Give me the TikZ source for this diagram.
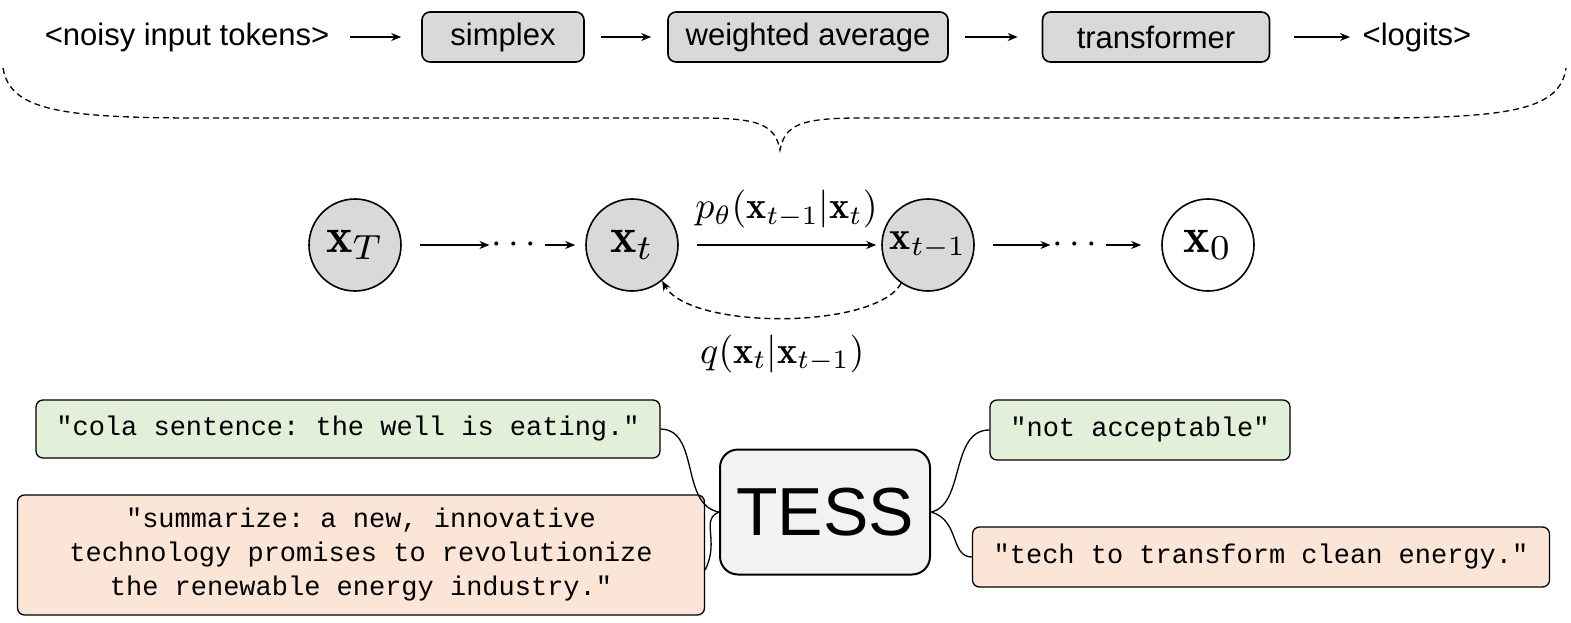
\documentclass[tikz,border=0pt]{standalone}
\usepackage{amsmath}
\usepackage{graphicx}
\usepackage{fontspec}
\setsansfont{Liberation Sans}
\setmonofont{Liberation Mono}
\usetikzlibrary{arrows.meta}
\definecolor{boxgray}{HTML}{D9D9D9}
\definecolor{lgreen}{HTML}{E2F0D9}
\definecolor{lorange}{HTML}{FBE5D6}
\newcommand{\ML}[1]{\scalebox{3.8}{$#1$}}
\newcommand{\MC}[1]{\scalebox{5.0}{$#1$}}
\begin{document}
\begin{tikzpicture}[x=1pt,y=-1pt,
  lbl/.style={font=\sffamily\fontsize{31}{36}\selectfont},
  blk/.style={draw,line width=1.6pt,rounded corners=8pt,fill=boxgray,font=\sffamily\fontsize{31}{36}\selectfont,inner sep=0pt},
  arr/.style={-{Stealth[length=10pt,width=8pt]},line width=1.4pt},
  st/.style={circle,draw,line width=1.6pt,minimum size=92pt,inner sep=0pt},
  txt/.style={draw,line width=1.3pt,rounded corners=7pt,font=\ttfamily\fontsize{27}{34}\selectfont,inner sep=0pt,align=center},
  con/.style={line width=1.3pt}]
\useasboundingbox (0,0) rectangle (1571,623);
% top row
\node[lbl] (in) at (187,37) {<noisy input tokens>};
\node[blk,minimum width=162pt,minimum height=50pt] (sp) at (503,37) {simplex};
\node[blk,minimum width=280pt,minimum height=50pt] (wa) at (808,37) {weighted average};
\node[blk,minimum width=227pt,minimum height=50pt] (tr) at (1156,37) {transformer};
\node[lbl] (lo) at (1417,37) {<logits>};
\draw[arr] (350,37) -- ([xshift=-20pt]sp.west);
\draw[arr] ([xshift=16pt]sp.east) -- ([xshift=-16pt]wa.west);
\draw[arr] ([xshift=16pt]wa.east) -- ([xshift=-24pt]tr.west);
\draw[arr] ([xshift=24pt]tr.east) -- (1350,37);
% brace
\coordinate (bl) at (3,68);
\coordinate (br) at (1566,68);
\coordinate (bt) at (780,150);
\draw[dashed,line width=1.3pt,dash pattern=on 6pt off 4pt] (bl) .. controls (10,110) and (60,118) .. (200,118) -- (700,118) .. controls (760,118) and (775,125) .. (bt) .. controls (785,125) and (800,118) .. (860,118) -- (1370,118) .. controls (1510,118) and (1560,110) .. (br);
% chain
\node[st,fill=boxgray] (xT) at (355,245) {\MC{\mathbf{x}_T}};
\node[inner sep=0pt] (d1) at (517,245) {\ML{\cdots}};
\node[st,fill=boxgray] (xt) at (632,245) {\MC{\mathbf{x}_t}};
\node[st,fill=boxgray] (xt1) at (928,245) {\scalebox{4.0}{$\mathbf{x}_{t-1}$}};
\node[inner sep=0pt] (d2) at (1078,245) {\ML{\cdots}};
\node[st,fill=white] (x0) at (1208,245) {\MC{\mathbf{x}_0}};
\draw[arr] ([xshift=18pt]xT.east) -- ([xshift=-2pt]d1.west);
\draw[arr] ([xshift=2pt]d1.east) -- ([xshift=-10pt]xt.west);
\draw[arr] ([xshift=18pt]xt1.east) -- ([xshift=-2pt]d2.west);
\draw[arr] ([xshift=2pt]d2.east) -- ([xshift=-20pt]x0.west);
\draw[arr] ([xshift=18pt]xt.east) -- node[above=16pt,inner sep=0pt]{\ML{p_\theta(\mathbf{x}_{t-1}|\mathbf{x}_t)}} ([xshift=-5pt]xt1.west);
\draw[arr,dashed,dash pattern=on 6pt off 4pt] (xt1.-125) .. controls (875,330) and (690,330) .. node[below=16pt,inner sep=0pt]{\ML{q(\mathbf{x}_t|\mathbf{x}_{t-1})}} (xt.-50);
% bottom
\node[draw,line width=2pt,rounded corners=18pt,fill=gray!10,minimum width=210pt,minimum height=125pt,font=\sffamily\fontsize{68}{74}\selectfont] (tess) at (825,512) {TESS};
\node[txt,fill=lgreen,minimum width=624pt,minimum height=58pt] (g1) at (348,429) {"cola sentence: the well is eating."};
\node[txt,fill=lorange,minimum width=687pt,minimum height=120pt] (o1) at (361,555) {"summarize: a new, innovative\\technology promises to revolutionize\\the renewable energy industry."};
\node[txt,fill=lgreen,minimum width=300pt,minimum height=60pt] (g2) at (1140,430) {"not acceptable"};
\node[txt,fill=lorange,minimum width=577pt,minimum height=60pt] (o2) at (1261,557) {"tech to transform clean energy."};
\draw[con] (g1.east) .. controls (700,430) and (680,505) .. (tess.west);
\draw[con] ([yshift=-15pt]o1.east) .. controls (720,540) and (700,520) .. (tess.west);
\draw[con] (g2.west) .. controls (950,430) and (965,505) .. (tess.east);
\draw[con] (o2.west) .. controls (950,557) and (960,520) .. (tess.east);
\end{tikzpicture}
\end{document}
